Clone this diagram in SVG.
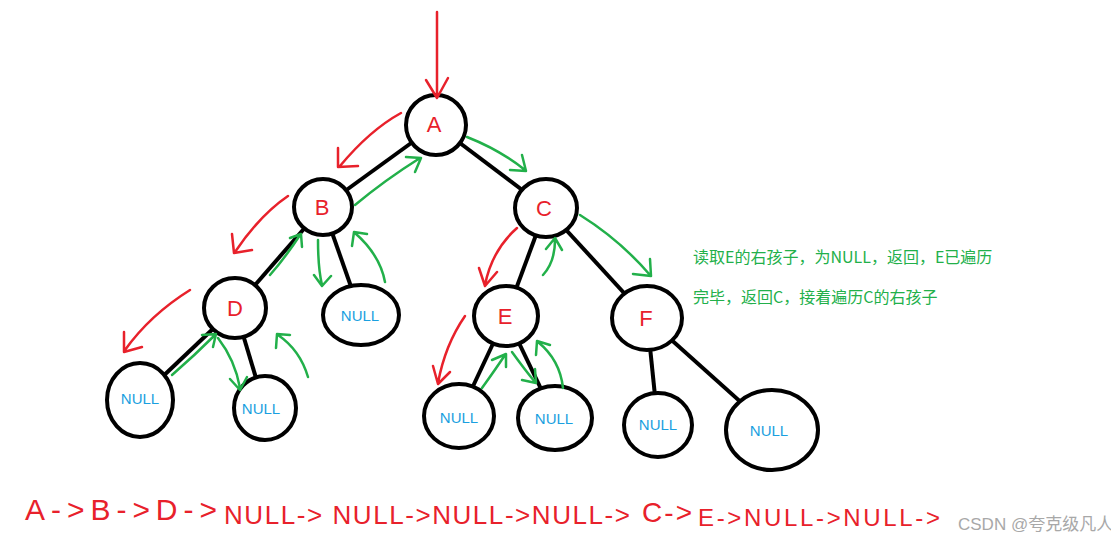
<svg xmlns="http://www.w3.org/2000/svg" width="1111" height="544" viewBox="0 0 1111 544">
<style>
.n{fill:#fff;stroke:#000;stroke-width:4}
.e{stroke:#000;stroke-width:4;fill:none}
.r{stroke:#e8212b;stroke-width:2.5;fill:none;stroke-linecap:round;stroke-linejoin:round}
.g{stroke:#22b04a;stroke-width:2.5;fill:none;stroke-linecap:round;stroke-linejoin:round}
.lr{font-family:"Liberation Sans",Arial,sans-serif;font-size:22px;fill:#e8212b;text-anchor:middle}
.lb{font-family:"Liberation Sans",Arial,sans-serif;font-size:15px;fill:#1aa0e0;text-anchor:middle}
.gt{font-family:"Noto Sans CJK SC",sans-serif;font-size:16px;fill:#22b04a}
.bt{font-family:"Liberation Sans",Arial,sans-serif;fill:#e8212b}
</style>
<rect width="1111" height="544" fill="#fff"/>
<g id="edges">
<line class="e" x1="436" y1="125" x2="323" y2="207"/>
<line class="e" x1="436" y1="125" x2="546" y2="208"/>
<line class="e" x1="323" y1="207" x2="235" y2="308"/>
<line class="e" x1="323" y1="207" x2="361" y2="315"/>
<line class="e" x1="546" y1="208" x2="506" y2="316"/>
<line class="e" x1="546" y1="208" x2="647" y2="318"/>
<line class="e" x1="235" y1="308" x2="140" y2="398"/>
<line class="e" x1="235" y1="308" x2="265" y2="408"/>
<line class="e" x1="506" y1="316" x2="459" y2="416"/>
<line class="e" x1="506" y1="316" x2="555" y2="418"/>
<line class="e" x1="647" y1="318" x2="658" y2="425"/>
<line class="e" x1="647" y1="318" x2="772" y2="430"/>
</g>
<g id="nA"><ellipse class="n" cx="436" cy="125" rx="30" ry="30"/><text class="lr" x="434" y="132">A</text></g>
<g id="nB"><ellipse class="n" cx="323" cy="207" rx="29" ry="28"/><text class="lr" x="322" y="215">B</text></g>
<g id="nC"><ellipse class="n" cx="546" cy="208" rx="31" ry="29"/><text class="lr" x="544" y="216">C</text></g>
<g id="nD"><ellipse class="n" cx="235" cy="308" rx="31" ry="30"/><text class="lr" x="235" y="316">D</text></g>
<g id="nBN"><ellipse class="n" cx="361" cy="315" rx="38" ry="30"/><text class="lb" x="360" y="321">NULL</text></g>
<g id="nE"><ellipse class="n" cx="506" cy="316" rx="32" ry="30"/><text class="lr" x="505" y="324">E</text></g>
<g id="nF"><ellipse class="n" cx="647" cy="318" rx="35" ry="32"/><text class="lr" x="646" y="326">F</text></g>
<g id="nDL"><ellipse class="n" cx="140" cy="400" rx="33" ry="37"/><text class="lb" x="140" y="404">NULL</text></g>
<g id="nDR"><ellipse class="n" cx="265" cy="408" rx="31" ry="32"/><text class="lb" x="261" y="414">NULL</text></g>
<g id="nEL"><ellipse class="n" cx="459" cy="416" rx="35" ry="32"/><text class="lb" x="459" y="423">NULL</text></g>
<g id="nER"><ellipse class="n" cx="555" cy="418" rx="37" ry="32"/><text class="lb" x="554" y="424">NULL</text></g>
<g id="nFL"><ellipse class="n" cx="658" cy="425" rx="34" ry="32"/><text class="lb" x="658" y="430">NULL</text></g>
<g id="nFR"><ellipse class="n" cx="772" cy="430" rx="46" ry="40"/><text class="lb" x="769" y="436">NULL</text></g>
<g id="arrows">
<path class="r" d="M437 12 L437 97 M426 80 L437 98 L448 78"/>
<path class="r" d="M401 113 Q370 130 340 166 M338 148 L338 167 L358 166"/>
<path class="r" d="M288 196 Q260 215 235 252 M232 234 L234 253 L252 250"/>
<path class="r" d="M190 290 Q150 315 125 350 M124 332 L124 352 L142 347"/>
<path class="r" d="M517 228 Q492 250 485 285 M479 268 L485 286 L497 272"/>
<path class="r" d="M465 316 Q445 345 438 383 M433 366 L438 384 L450 372"/>
<path class="g" d="M467 137 Q500 150 525 170 M510 170 L526 171 L522 155"/>
<path class="g" d="M355 205 Q385 180 420 158 M406 157 L421 158 L415 172"/>
<path class="g" d="M270 275 Q285 258 300 235 M290 238 L301 234 L302 247"/>
<path class="g" d="M318 240 Q318 268 322 285 M314 275 L322 286 L331 276"/>
<path class="g" d="M385 282 Q380 255 355 233 M352 246 L354 232 L367 234"/>
<path class="g" d="M172 375 Q195 355 215 335 M202 335 L216 334 L213 347"/>
<path class="g" d="M218 338 Q235 360 240 388 M230 379 L240 390 L247 377"/>
<path class="g" d="M308 377 Q300 350 278 335 M276 348 L277 334 L290 335"/>
<path class="g" d="M580 215 Q620 240 650 275 M633 274 L651 276 L650 259"/>
<path class="g" d="M543 275 Q555 262 555 240 M546 249 L555 238 L562 250"/>
<path class="g" d="M482 388 Q495 370 505 355 M492 360 L506 354 L506 367"/>
<path class="g" d="M512 352 Q525 370 535 382 M522 380 L536 383 L535 369"/>
<path class="g" d="M563 388 Q560 360 538 342 M536 355 L537 341 L550 345"/>
</g>
<g id="note">
<text class="gt" x="693" y="263">读取E的右孩子，为NULL，返回，E已遍历</text>
<text class="gt" x="693" y="303">完毕，返回C，接着遍历C的右孩子</text>
</g>
<g id="seq">
<text class="bt" x="25" y="520" font-size="30" textLength="192" lengthAdjust="spacing">A-&gt;B-&gt;D-&gt;</text>
<text class="bt" x="224" y="524" font-size="26" textLength="406" lengthAdjust="spacing">NULL-&gt; NULL-&gt;NULL-&gt;NULL-&gt;</text>
<text class="bt" x="642" y="522" font-size="28" textLength="50" lengthAdjust="spacing">C-&gt;</text>
<text class="bt" x="698" y="526" font-size="24" textLength="242" lengthAdjust="spacing">E-&gt;NULL-&gt;NULL-&gt;</text>
</g>
<text x="958" y="530" font-family="'Liberation Sans','Noto Sans CJK SC',sans-serif" font-size="17" fill="#999" opacity="0.85">CSDN @夸克级凡人</text>
</svg>
